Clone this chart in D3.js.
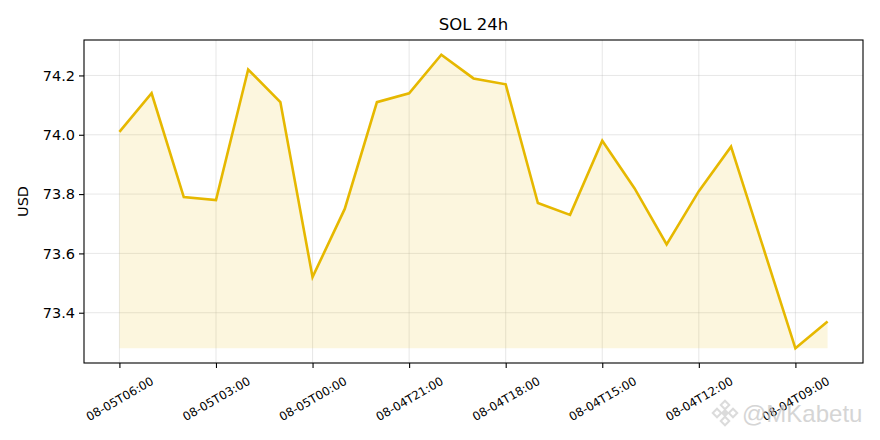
<!DOCTYPE html>
<html>
<head>
<meta charset="utf-8">
<script src="https://cdn.jsdelivr.net/npm/d3@7"></script>
<style>
  body { margin: 0; background: #fff; }
  svg { font-family: 'DejaVu Sans', sans-serif; }
</style>
</head>
<body>
<div id="chart"></div>
<script>
// hourly SOL price, newest first (as drawn left to right)
const times = [
  '2024-08-05T06:00', '2024-08-05T05:00', '2024-08-05T04:00', '2024-08-05T03:00',
  '2024-08-05T02:00', '2024-08-05T01:00', '2024-08-05T00:00', '2024-08-04T23:00',
  '2024-08-04T22:00', '2024-08-04T21:00', '2024-08-04T20:00', '2024-08-04T19:00',
  '2024-08-04T18:00', '2024-08-04T17:00', '2024-08-04T16:00', '2024-08-04T15:00',
  '2024-08-04T14:00', '2024-08-04T13:00', '2024-08-04T12:00', '2024-08-04T11:00',
  '2024-08-04T10:00', '2024-08-04T09:00', '2024-08-04T08:00'
];
const prices = [
  74.01, 74.14, 73.79, 73.78, 74.22, 74.11, 73.52, 73.75,
  74.11, 74.14, 74.27, 74.19, 74.17, 73.77, 73.73, 73.98,
  73.82, 73.63, 73.81, 73.96, 73.62, 73.28, 73.37
];
const yTicks = [73.4, 73.6, 73.8, 74.0, 74.2];

const width = 880;
const height = 440;
const margin = { top: 40, right: 17, bottom: 77, left: 84 };
const innerW = width - margin.left - margin.right;
const innerH = height - margin.top - margin.bottom;

const lineColor = '#e6b800';

const parse = d3.utcParse('%Y-%m-%dT%H:%M');
const data = times.map((t, i) => ({ t: parse(t), v: prices[i] }));

const svg = d3
  .select('#chart')
  .append('svg')
  .attr('width', width)
  .attr('height', height);

const g = svg
  .append('g')
  .attr('transform', 'translate(' + margin.left + ',' + margin.top + ')');

// matplotlib-style 5% margins
const tExt = d3.extent(data, d => d.t);
const tPad = (tExt[1] - tExt[0]) * 0.05;
const vExt = d3.extent(data, d => d.v);
const vPad = (vExt[1] - vExt[0]) * 0.05;

const x = d3
  .scaleUtc()
  .domain([new Date(+tExt[1] + tPad), new Date(+tExt[0] - tPad)])
  .range([0, innerW]);

const y = d3
  .scaleLinear()
  .domain([vExt[0] - vPad, vExt[1] + vPad])
  .range([innerH, 0]);

const xTicks = x.ticks(d3.utcHour.every(3));
const fmt = d3.utcFormat('%m-%dT%H:%M');

// grid
g.append('g')
  .selectAll('line')
  .data(xTicks)
  .join('line')
  .attr('x1', d => x(d))
  .attr('x2', d => x(d))
  .attr('y1', 0)
  .attr('y2', innerH)
  .style('stroke', '#b0b0b0')
  .style('stroke-opacity', 0.35)
  .style('stroke-width', 0.9);

g.append('g')
  .selectAll('line')
  .data(yTicks)
  .join('line')
  .attr('x1', 0)
  .attr('x2', innerW)
  .attr('y1', d => y(d))
  .attr('y2', d => y(d))
  .style('stroke', '#b0b0b0')
  .style('stroke-opacity', 0.35)
  .style('stroke-width', 0.9);

// area down to the lowest price
const area = d3
  .area()
  .x(d => x(d.t))
  .y0(y(vExt[0]))
  .y1(d => y(d.v));

g.append('path')
  .datum(data)
  .attr('d', area)
  .style('fill', lineColor)
  .style('fill-opacity', 0.13);

const line = d3
  .line()
  .x(d => x(d.t))
  .y(d => y(d.v));

g.append('path')
  .datum(data)
  .attr('d', line)
  .style('fill', 'none')
  .style('stroke', lineColor)
  .style('stroke-width', 2.6)
  .style('stroke-linejoin', 'miter');

// frame
g.append('rect')
  .attr('width', innerW)
  .attr('height', innerH)
  .style('fill', 'none')
  .style('stroke', '#000')
  .style('stroke-width', 1.1);

// x axis
const xAxis = g
  .append('g')
  .attr('transform', 'translate(0,' + innerH + ')')
  .call(d3.axisBottom(x).tickValues(xTicks).tickSize(5).tickFormat(''));
xAxis.select('.domain').remove();
xAxis.selectAll('.tick line').style('stroke', '#000').style('stroke-width', 1.1);

xAxis
  .selectAll('.tick')
  .append('text')
  .text(d => fmt(d))
  .attr('fill', '#000')
  .attr('text-anchor', 'middle')
  .attr('dominant-baseline', 'central')
  .attr('transform', 'translate(0,36) rotate(-30)')
  .style('font-family', "'DejaVu Sans', sans-serif")
  .style('font-size', '11.8px');

// y axis
const yAxis = g
  .append('g')
  .call(d3.axisLeft(y).tickValues(yTicks).tickSize(5).tickPadding(4).tickFormat(d3.format('.1f')));
yAxis.select('.domain').remove();
yAxis.selectAll('.tick line').style('stroke', '#000').style('stroke-width', 1.1);
yAxis
  .selectAll('.tick text')
  .attr('fill', '#000')
  .style('font-family', "'DejaVu Sans', sans-serif")
  .style('font-size', '14.5px');

// labels
svg
  .append('text')
  .text('SOL 24h')
  .attr('x', margin.left + innerW / 2)
  .attr('y', 30)
  .attr('text-anchor', 'middle')
  .style('font-size', '16.5px');

svg
  .append('text')
  .text('USD')
  .attr('transform', 'translate(28,' + (margin.top + innerH / 2) + ') rotate(-90)')
  .attr('text-anchor', 'middle')
  .style('font-size', '14.5px');

// watermark
const wm = svg.append('g').style('opacity', 0.75);
const logo = wm.append('g').attr('transform', 'translate(725,413)');
[[0, -8], [-8, 0], [8, 0], [0, 8]].forEach(p => {
  logo
    .append('rect')
    .attr('x', p[0] - 3)
    .attr('y', p[1] - 3)
    .attr('width', 6)
    .attr('height', 6)
    .attr('transform', 'rotate(45,' + p[0] + ',' + p[1] + ')')
    .style('fill', 'none')
    .style('stroke', '#d0d0d0')
    .style('stroke-width', 2);
});
logo
  .append('rect')
  .attr('x', -3)
  .attr('y', -3)
  .attr('width', 6)
  .attr('height', 6)
  .attr('transform', 'rotate(45)')
  .style('fill', '#d0d0d0');
wm.append('text')
  .text('@MKabetu')
  .attr('x', 742)
  .attr('y', 422)
  .style('font-family', "'Liberation Sans', Arial, sans-serif")
  .style('font-size', '24px')
  .style('fill', '#c8c8c8');
</script>
</body>
</html>
